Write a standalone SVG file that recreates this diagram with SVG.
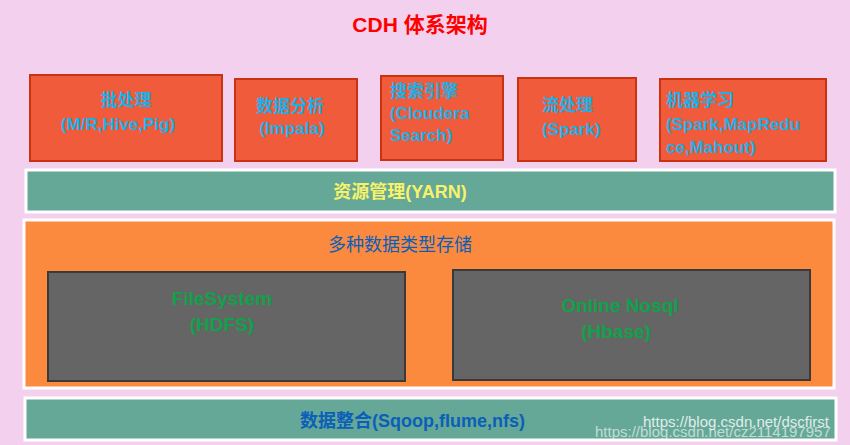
<svg xmlns="http://www.w3.org/2000/svg" width="850" height="445" viewBox="0 0 850 445">
<style>
.f{font-family:"Liberation Sans","Noto Sans CJK SC",sans-serif}
.top{fill:#ef5b3b;stroke:#c9330f;stroke-width:2}
.tt{fill:#1ab0e8;font-size:17px;font-weight:bold}
.bar{fill:#65a897;stroke:#fff;stroke-width:3}
.gr{fill:#656565;stroke:#3a3a3a;stroke-width:2}
.gt{fill:#11a14a;font-size:19px;font-weight:bold}
.bt{fill:#0b5fb8;font-size:18px}
</style>
<rect width="850" height="445" fill="#f3d1ee"/>
<text class="f" x="420" y="32" text-anchor="middle" fill="#f00" font-size="21" font-weight="bold">CDH 体系架构</text>
<g id="n1"><rect class="top" x="30" y="75" width="192" height="86"/><text class="f tt" x="126" y="106" text-anchor="middle">批处理</text><text class="f tt" x="118" y="130" text-anchor="middle">(M/R,Hive,Pig)</text></g>
<g id="n2"><rect class="top" x="235" y="79" width="122" height="82"/><text class="f tt" x="290" y="112" text-anchor="middle">数据分析</text><text class="f tt" x="292" y="134" text-anchor="middle">(Impala)</text></g>
<g id="n3"><rect class="top" x="381" y="76" width="122" height="84"/><text class="f tt" x="390" y="97">搜索引擎</text><text class="f tt" x="390" y="119">(Cloudera</text><text class="f tt" x="390" y="141">Search)</text></g>
<g id="n4"><rect class="top" x="518" y="78" width="118" height="83"/><text class="f tt" x="542" y="111">流处理</text><text class="f tt" x="542" y="135">(Spark)</text></g>
<g id="n5"><rect class="top" x="660" y="79" width="166" height="82"/><text class="f tt" x="666" y="106">机器学习</text><text class="f tt" x="666" y="130">(Spark,MapRedu</text><text class="f tt" x="666" y="153">ce,Mahout)</text></g>
<g id="yarn"><rect class="bar" x="26" y="170" width="809" height="42"/><text class="f" x="400" y="198" text-anchor="middle" font-size="18" fill="#f7f26a" font-weight="bold">资源管理(YARN)</text></g>
<g id="storage"><rect x="24" y="220" width="810" height="168" fill="#fb8a3f" stroke="#fff" stroke-width="3"/><text class="f bt" x="400" y="251" text-anchor="middle">多种数据类型存储</text></g>
<g id="hdfs"><rect class="gr" x="48" y="272" width="357" height="109"/><text class="f gt" x="222" y="305" text-anchor="middle">FileSystem</text><text class="f gt" x="222" y="331" text-anchor="middle">(HDFS)</text></g>
<g id="hbase"><rect class="gr" x="453" y="270" width="357" height="110"/><text class="f gt" x="620" y="312" text-anchor="middle">Online Nosql</text><text class="f gt" x="616" y="338" text-anchor="middle">(Hbase)</text></g>
<g id="ingest"><rect class="bar" x="25" y="398" width="811" height="42"/><text class="f bt" x="300" y="427" font-weight="bold">数据整合(Sqoop,flume,nfs)</text></g>
<g id="connectors"></g>
<text class="f" x="643" y="427" font-size="15" fill="#fff" opacity="0.8">https://blog.csdn.net/dscfirst</text>
<text class="f" x="595" y="437" font-size="15" fill="#fff" opacity="0.6">https://blog.csdn.net/cz2114197957</text>
</svg>
